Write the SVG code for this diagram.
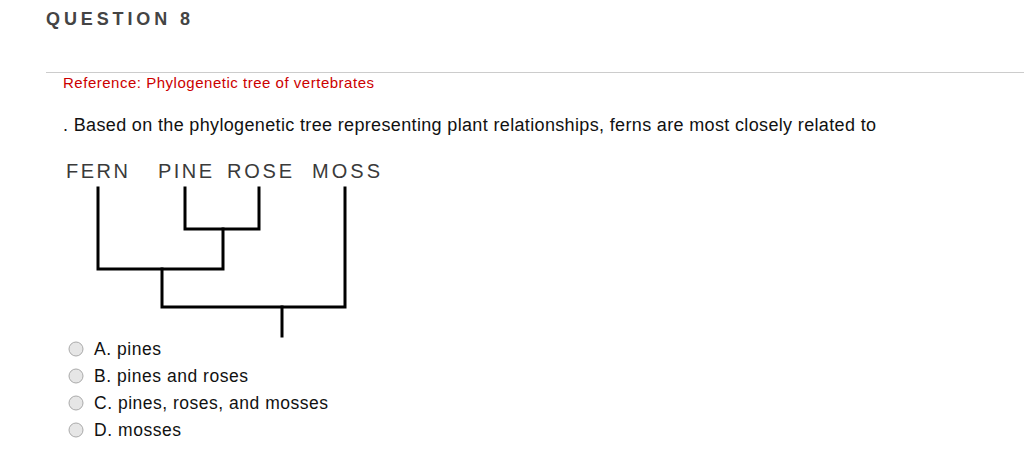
<svg xmlns="http://www.w3.org/2000/svg" width="1024" height="466" viewBox="0 0 1024 466">
<style>
text{font-family:"Liberation Sans",Arial,sans-serif}
.lbl{font-size:20px;fill:#3a3a3a}
.opt{font-size:17.5px;fill:#111}
.br{stroke:#000;stroke-width:3;fill:none;stroke-linecap:square}
.rad{fill:#e6e6e6;stroke:#aaa;stroke-width:1}
</style>
<rect width="1024" height="466" fill="#fff"/>
<text x="46" y="25" font-size="18" font-weight="bold" fill="#444" textLength="144" lengthAdjust="spacing">QUESTION 8</text>
<line x1="46" y1="72.5" x2="1024" y2="72.5" stroke="#ccc"/>
<text x="63" y="88" font-size="15" fill="#c00" textLength="311">Reference: Phylogenetic tree of vertebrates</text>
<text x="63" y="131" font-size="18" fill="#111" textLength="813">. Based on the phylogenetic tree representing plant relationships, ferns are most closely related to</text>
<g id="labels">
<text class="lbl" x="66" y="178" textLength="62">FERN</text>
<text class="lbl" x="158" y="178" textLength="54">PINE</text>
<text class="lbl" x="227" y="178" textLength="65">ROSE</text>
<text class="lbl" x="312" y="178" textLength="68">MOSS</text>
</g>
<g id="connectors">
<path class="br" d="M98 188V269H223V229"/>
<path class="br" d="M185 188V229H259V188"/>
<path class="br" d="M162 269V307H345V188"/>
<path class="br" d="M282 307V336"/>
</g>
<g id="options">
<circle class="rad" cx="76" cy="349" r="7"/><text class="opt" x="94" y="355" textLength="67">A. pines</text>
<circle class="rad" cx="76" cy="376" r="7"/><text class="opt" x="94" y="382" textLength="154">B. pines and roses</text>
<circle class="rad" cx="76" cy="403" r="7"/><text class="opt" x="94" y="409" textLength="234">C. pines, roses, and mosses</text>
<circle class="rad" cx="76" cy="430" r="7"/><text class="opt" x="94" y="436" textLength="87">D. mosses</text>
</g>
</svg>
